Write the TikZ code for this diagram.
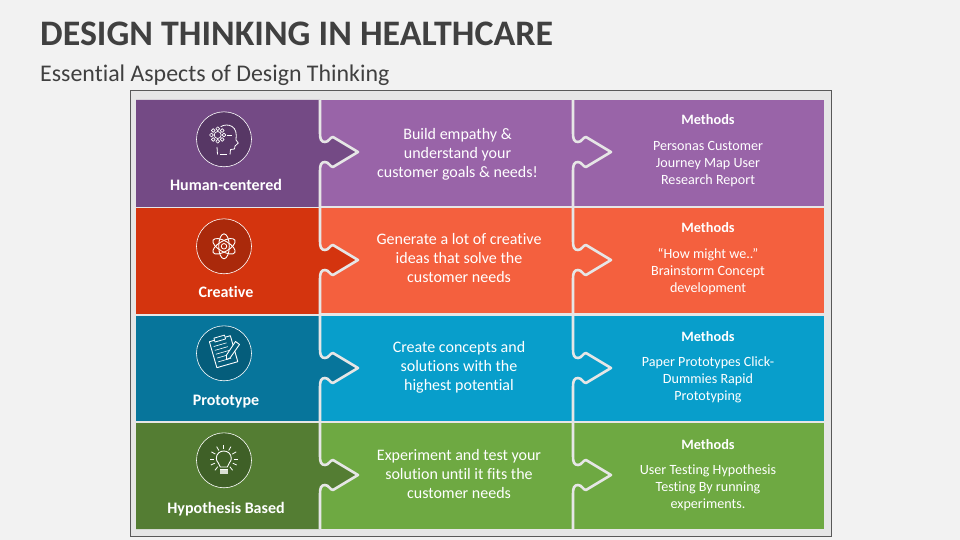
\documentclass[tikz,border=0pt]{standalone}
\usepackage{fontspec}
\setmainfont[Ligatures=NoCommon]{Carlito}
\usetikzlibrary{positioning}
\definecolor{titlegray}{HTML}{404040}
\definecolor{slidegray}{HTML}{F2F2F2}
\definecolor{framegray}{HTML}{595959}
\definecolor{purpleA}{HTML}{744A85}
\definecolor{purpleB}{HTML}{9964A8}
\definecolor{purpleC}{HTML}{573765}
\definecolor{redA}{HTML}{D4340E}
\definecolor{redB}{HTML}{F4603E}
\definecolor{redC}{HTML}{AA290B}
\definecolor{blueA}{HTML}{07759B}
\definecolor{blueB}{HTML}{089ECB}
\definecolor{blueC}{HTML}{055D7B}
\definecolor{greenA}{HTML}{547D33}
\definecolor{greenB}{HTML}{6EA942}
\definecolor{greenC}{HTML}{3F6027}
\definecolor{seam}{HTML}{E6E6E6}
% pixel grid of the slide
\tikzset{x=1pt,y=-1pt,
  headtext/.style={font=\bfseries\fontsize{16}{19}\selectfont,text=white,align=center,anchor=base},
  msgtext/.style={font=\fontsize{16}{19}\selectfont,text=white,align=center},
  methodhead/.style={font=\bfseries\fontsize{14.3}{17}\selectfont,text=white,align=center},
  methodtext/.style={font=\fontsize{14.1}{17}\selectfont,text=white,align=center},
  iconring/.style={circle,draw=white,line width=0.6pt,minimum size=55pt,inner sep=0pt},
  iconline/.style={draw=white,line width=0.8pt,line join=round},
  seamline/.style={draw=seam,line width=2.6pt,line join=round}}
% edge of a row with its tab, #1 = x of seam, #2 = y of row top, #3 = y of next row top
\newcommand{\tabedge}[3]{(#1,#2) -- (#1,{#2+33})
    .. controls (#1,{#2+39}) and ({#1+1},{#2+42}) .. ({#1+5},{#2+42})
    .. controls ({#1+9},{#2+42}) and ({#1+10},{#2+37}) .. ({#1+13},{#2+37})
    -- ({#1+38},{#2+52}) -- ({#1+13},{#2+67})
    .. controls ({#1+10},{#2+67}) and ({#1+9},{#2+62}) .. ({#1+5},{#2+62})
    .. controls ({#1+1},{#2+62}) and (#1,{#2+65}) .. (#1,{#2+71})
    -- (#1,#3)}
\begin{document}
\begin{tikzpicture}
\useasboundingbox (0,0) rectangle (960,540);
\fill[slidegray] (0,0) rectangle (960,540);
\node[anchor=west,font=\bfseries\fontsize{35.9}{40}\selectfont,text=titlegray,inner sep=0pt] (title) at (40,34) {DESIGN THINKING IN HEALTHCARE};
\node[anchor=west,font=\fontsize{23.9}{28}\selectfont,text=titlegray,inner sep=0pt] (subtitle) at (40,75) {Essential Aspects of Design Thinking};
\draw[fill=seam,draw=framegray,line width=0.9pt] (130,90) rectangle (831,536.5);

% rows
\foreach \rowtop/\rowbot/\rownext/\ca/\cb in {100/206.3/208/purpleA/purpleB,208/313/316/redA/redB,316/420.7/423/blueA/blueB,423/529/529/greenA/greenB}{
  \fill[\cb] (320,\rowtop) rectangle (824,\rowbot);
  \begin{scope}
    \clip (136,\rowtop) rectangle (824,\rowbot);
    \fill[\ca] (136,\rowtop) -- \tabedge{320}{\rowtop}{\rownext} -- (136,\rownext) -- cycle;
  \end{scope}
  \draw[seamline] \tabedge{320}{\rowtop}{\rownext};
  \draw[seamline] \tabedge{573}{\rowtop}{\rownext};
}

% icon discs
\node[iconring,fill=purpleC] (ring1) at (224,139.3) {};
\node[iconring,fill=redC] (ring2) at (224,246.3) {};
\node[iconring,fill=blueC] (ring3) at (224,353.3) {};
\node[iconring,fill=greenC] (ring4) at (224,460.3) {};

% head with gear
\draw[iconline] (220.7,126.7) .. controls (224,124.5) and (229,124.5) .. (232,126.5) .. controls (236,129) and (236.7,133) .. (236,140) -- (238.3,143) -- (235,146) -- (234.5,149) -- (230.5,149.5) -- (230,154.5);
\draw[iconline] (217,147) -- (217.5,154.5);
\draw[iconline] (220,154.5) -- (227,154.5);
\draw[iconline] (227,135) -- (232,135);
\foreach \ang in {0,45,...,315}{
  \draw[iconline,line width=0.7pt] (217.7,135) ++(\ang:6.3pt) circle (1.9pt);
}
\node[circle,draw=white,fill=purpleC,line width=0.7pt,minimum size=7pt,inner sep=0pt] (gearhub) at (217.7,135) {};

% atom
\foreach \ang in {30,90,150}{
  \draw[iconline,line width=0.9pt,rotate around={\ang:(224,246.3)}] (224,246.3) ellipse [x radius=12.5pt,y radius=5.3pt];
}
\node[circle,draw=white,line width=0.8pt,minimum size=5.5pt,inner sep=0pt] (nucleus) at (224,246.3) {};

% clipboard and pencil
\begin{scope}[rotate around={16:(223.6,351.7)}]
  \draw[iconline,line width=0.9pt] (212.7,338.2) rectangle (234.5,365.2);
  \draw[iconline,fill=blueC] (218,336) rectangle (229,340);
  \foreach \ly in {344,348,352,356,360}{
    \draw[iconline,line width=0.6pt] (215.5,\ly) -- (229,\ly);
  }
\end{scope}
\draw[iconline,fill=blueC,line width=0.9pt] (235.5,341.5) -- (239.5,344.5) -- (230,358) -- (226.5,359.5) -- (226.5,355) -- cycle;

% bulb
\draw[iconline,line width=0.9pt] (220.3,467) .. controls (220,463.5) and (216.3,462) .. (216.3,458.5) .. controls (216.3,448.5) and (231.3,448.5) .. (231.3,458.5) .. controls (231.3,462) and (227.6,463.5) .. (227.3,467) -- cycle;
\draw[iconline] (220,469) -- (227.6,469);
\fill[white,opacity=0.8] (220,470.3) rectangle (227.6,474.3);
\foreach \ang in {90,60,30,0,-25,-52,120,150,180,205,232}{
  \draw[iconline] (223.8,459) ++(\ang:9.8pt) -- ++(\ang:4.5pt);
}

% texts
\foreach \nm/\by/\lab in {lab1/190/Human-centered,lab2/297/Creative,lab3/405/Prototype,lab4/513/Hypothesis Based}{
  \node[headtext] (\nm) at (226,\by) {\lab};
}
\node[msgtext] (msg1) at (457.5,154) {Build empathy \&\\understand your\\customer goals \& needs!};
\node[msgtext] (msg2) at (459,258) {Generate a lot of creative\\ideas that solve the\\customer needs};
\node[msgtext] (msg3) at (459,367) {Create concepts and\\solutions with the\\highest potential};
\node[msgtext] (msg4) at (459,474) {Experiment and test your\\solution until it fits the\\customer needs};

\foreach \nm/\cy in {meth1/120,meth2/228,meth3/337,meth4/445}{
  \node[methodhead] (\nm) at (708,\cy) {Methods};
}
\node[methodtext] (list1) at (708,164) {Personas Customer\\Journey Map User\\Research Report};
\node[methodtext] (list2) at (708,272) {“How might we..”\\Brainstorm Concept\\development};
\node[methodtext] (list3) at (708,380) {Paper Prototypes Click-\\Dummies Rapid\\Prototyping};
\node[methodtext] (list4) at (708,488) {User Testing Hypothesis\\Testing By running\\experiments.};
\end{tikzpicture}
\end{document}
